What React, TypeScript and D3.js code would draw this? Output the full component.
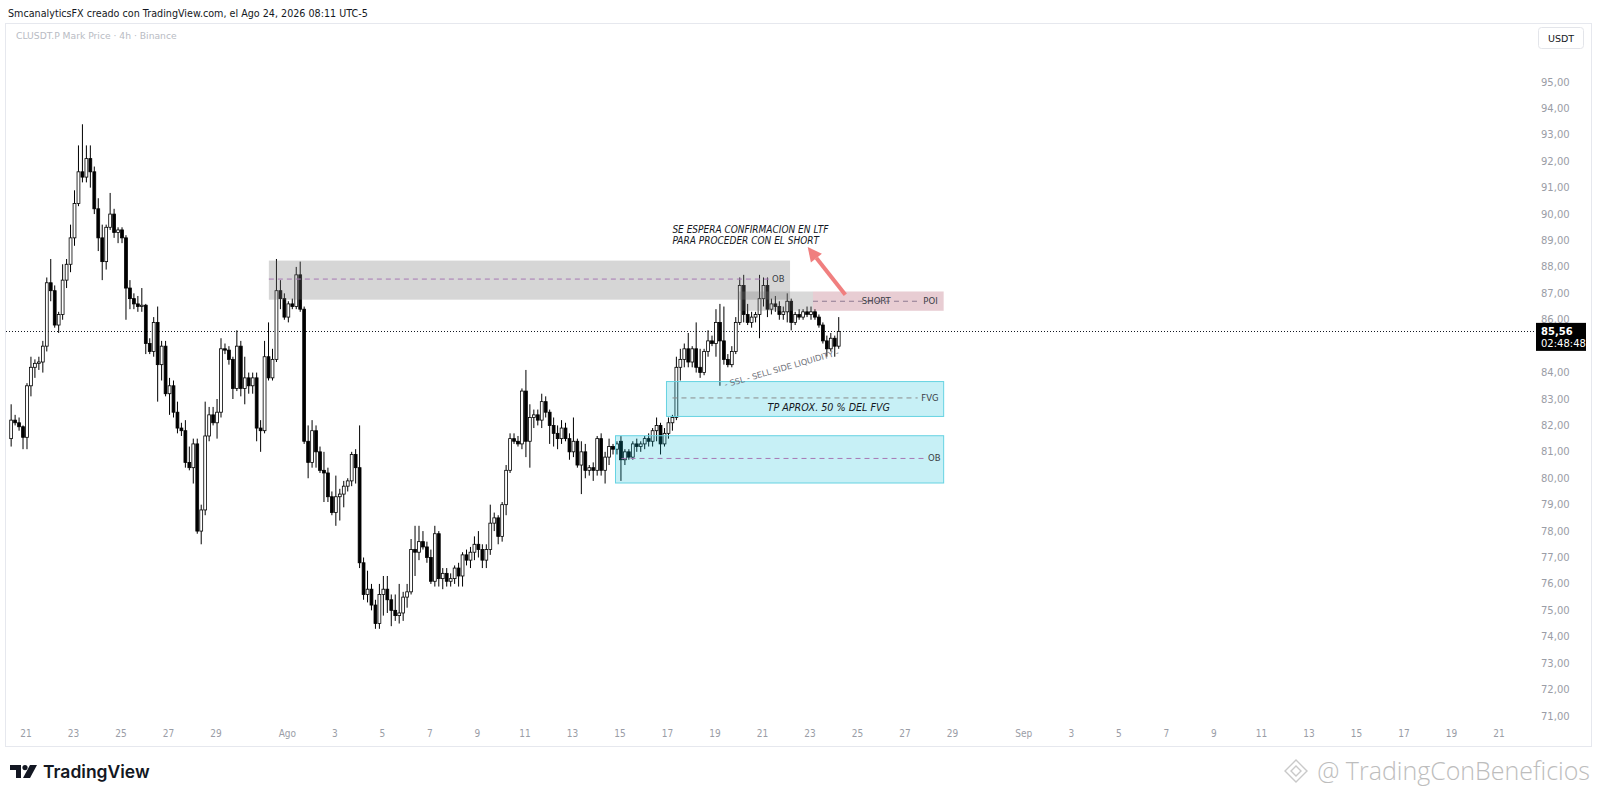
import { useEffect, useRef } from "react";
import * as d3 from "d3";

type Candle = [number, number, number, number]; // open, high, low, close

// 4h candles, the first one opens Jul 20 07:00 (chart time)
const FIRST_OPEN = Date.UTC(2026, 6, 20, 7);
const STEP = 4 * 3600 * 1000;

// Jul 20 -> Aug 1
const julCandles: Candle[] = [
  [81.5, 82.8, 81.2, 82.2], [82.2, 82.4, 82.0, 82.1], [82.1, 82.3, 81.8, 81.95], [81.95, 82.0, 81.1, 81.55],
  [81.55, 83.6, 81.1, 83.5], [83.5, 84.6, 83.1, 84.2], [84.2, 84.5, 83.8, 84.35], [84.35, 84.6, 84.1, 84.4],
  [84.4, 85.2, 84.0, 85.0], [85.0, 87.6, 84.8, 87.4], [87.4, 88.3, 86.7, 87.1], [87.1, 87.3, 85.7, 85.8],
  [85.8, 86.3, 85.5, 86.2], [86.2, 88.1, 86.0, 87.5], [87.5, 88.3, 87.2, 88.1], [88.1, 89.6, 87.8, 89.1],
  [89.1, 90.9, 88.8, 90.4], [90.4, 92.6, 90.3, 91.6], [91.6, 93.4, 91.2, 91.4], [91.4, 92.6, 91.2, 92.1],
  [92.1, 92.6, 91.0, 91.6], [91.6, 91.8, 90.0, 90.2], [90.2, 90.6, 88.6, 89.1], [89.1, 89.6, 87.5, 88.2],
  [88.2, 89.6, 87.9, 89.5], [89.5, 90.8, 89.4, 90.0], [90.0, 90.2, 89.1, 89.3], [89.3, 89.5, 88.9, 89.4],
  [89.4, 89.5, 88.9, 89.1], [89.1, 89.2, 86.0, 87.2], [87.2, 87.5, 86.4, 86.8], [86.8, 87.0, 86.4, 86.6],
  [86.6, 86.9, 86.3, 86.5], [86.5, 87.2, 86.3, 86.55], [86.55, 86.6, 84.7, 85.1], [85.1, 85.3, 84.7, 84.8],
  [84.8, 86.1, 84.6, 85.9], [85.9, 86.5, 82.9, 84.3], [84.3, 85.2, 83.7, 85.0], [85.0, 85.2, 83.1, 83.2],
  [83.2, 83.8, 82.4, 83.5], [83.5, 83.7, 82.3, 82.5], [82.5, 82.9, 81.7, 81.9], [81.9, 82.1, 81.6, 81.8],
  [81.8, 82.2, 80.4, 80.6], [80.6, 81.2, 80.3, 80.4], [80.4, 81.5, 79.8, 81.3], [81.3, 81.5, 77.9, 78.0],
  [78.0, 79.0, 77.5, 78.8], [78.8, 82.9, 78.6, 81.6], [81.6, 82.7, 81.4, 82.4], [82.4, 82.7, 82.0, 82.1],
  [82.1, 83.0, 81.5, 82.5], [82.5, 85.3, 82.3, 84.9], [84.9, 85.1, 84.7, 84.85], [84.85, 85.0, 84.3, 84.5],
  [84.5, 84.6, 83.0, 83.4], [83.4, 85.6, 83.3, 85.0], [85.0, 85.2, 83.1, 83.4], [83.4, 84.6, 82.8, 83.8],
  [83.8, 84.0, 83.2, 83.5], [83.5, 84.0, 83.2, 83.8], [83.8, 84.0, 81.4, 81.9], [81.9, 82.2, 81.0, 81.8],
  [81.8, 85.2, 81.7, 84.6], [84.6, 85.9, 83.7, 83.8], [83.8, 84.9, 83.7, 84.5], [84.5, 88.3, 84.4, 87.1],
  [87.1, 87.5, 86.4, 86.8], [86.8, 87.0, 86.0, 86.1], [86.1, 86.7, 85.9, 86.6], [86.6, 86.8, 86.4, 86.5],
  [86.5, 88.0, 86.4, 87.7], [87.7, 88.2, 86.3, 86.4], [86.4, 86.5, 81.3, 81.4],
];

// Aug 1 -> Aug 10
const earlyAugCandles: Candle[] = [
  [81.4, 82.0, 80.0, 80.6], [80.6, 82.2, 80.4, 81.8], [81.8, 82.0, 80.4, 81.0], [81.0, 81.2, 80.2, 80.3],
  [80.3, 81.0, 79.1, 80.2], [80.2, 80.4, 79.1, 79.3], [79.3, 79.5, 78.6, 78.7], [78.7, 80.1, 78.2, 79.3],
  [79.3, 79.6, 78.4, 79.4], [79.4, 79.9, 78.9, 79.7], [79.7, 80.0, 79.5, 79.9], [79.9, 81.0, 79.7, 80.9],
  [80.9, 81.1, 79.8, 80.4], [80.4, 82.0, 76.6, 76.8], [76.8, 77.0, 75.4, 75.6], [75.6, 76.5, 75.3, 75.8],
  [75.8, 76.0, 75.0, 75.2], [75.2, 75.4, 74.3, 74.5], [74.5, 76.0, 74.3, 75.6], [75.6, 76.3, 74.8, 75.8],
  [75.8, 76.3, 74.9, 75.4], [75.4, 75.6, 74.4, 75.0], [75.0, 75.6, 74.6, 74.8], [74.8, 76.0, 74.5, 74.9],
  [74.9, 75.7, 74.6, 75.5], [75.5, 76.0, 75.1, 75.7], [75.7, 77.7, 75.6, 77.3], [77.3, 78.2, 76.3, 77.2],
  [77.2, 78.2, 76.9, 77.6], [77.6, 78.0, 77.3, 77.4], [77.4, 77.6, 76.8, 77.0], [77.0, 77.3, 76.0, 76.1],
  [76.1, 78.2, 75.9, 77.9], [77.9, 78.0, 75.9, 76.2], [76.2, 76.6, 75.8, 76.4], [76.4, 76.6, 75.9, 76.1],
  [76.1, 76.4, 75.9, 76.2], [76.2, 76.7, 76.0, 76.6], [76.6, 76.8, 75.9, 76.3], [76.3, 77.2, 75.9, 77.1],
  [77.1, 77.3, 76.7, 76.9], [76.9, 77.4, 76.6, 77.2], [77.2, 77.8, 76.9, 77.5], [77.5, 78.0, 77.0, 77.3],
  [77.3, 77.5, 76.6, 76.9], [76.9, 77.5, 76.6, 77.3], [77.3, 79.0, 77.1, 78.3], [78.3, 78.7, 78.0, 78.5],
  [78.5, 78.6, 77.5, 77.8], [77.8, 79.1, 77.6, 79.0], [79.0, 80.5, 78.6, 80.3], [80.3, 81.7, 80.2, 81.5],
  [81.5, 81.7, 81.3, 81.4], [81.4, 81.6, 81.2, 81.3], [81.3, 83.4, 81.1, 83.3], [83.3, 84.1, 80.8, 81.4],
];

// Aug 11 -> Aug 17
const midAugCandles: Candle[] = [
  [81.4, 82.8, 80.4, 82.3], [82.3, 82.6, 81.9, 82.4], [82.4, 82.6, 82.0, 82.2], [82.2, 83.2, 81.9, 82.9],
  [82.9, 83.1, 82.3, 82.5], [82.5, 82.6, 81.3, 82.0], [82.0, 82.3, 81.2, 81.7], [81.7, 82.0, 81.1, 81.5],
  [81.5, 82.2, 81.3, 81.9], [81.9, 82.1, 81.4, 81.5], [81.5, 81.7, 80.7, 81.0], [81.0, 82.3, 80.8, 81.4],
  [81.4, 81.5, 80.4, 80.5], [80.5, 81.4, 79.4, 81.0], [81.0, 81.3, 80.0, 80.3], [80.3, 80.5, 80.1, 80.4],
  [80.4, 80.6, 79.9, 80.3], [80.3, 81.6, 80.1, 81.5], [81.5, 81.7, 80.1, 80.3], [80.3, 81.0, 79.8, 80.8],
  [80.8, 81.5, 80.5, 81.2], [81.2, 81.3, 80.9, 81.1], [81.1, 81.4, 80.9, 81.3], [81.4, 81.6, 79.9, 80.7],
  [80.7, 81.1, 80.5, 81.0], [81.0, 81.1, 80.7, 80.8], [80.8, 81.4, 80.7, 81.3], [81.3, 81.5, 81.0, 81.2],
  [81.2, 81.4, 81.0, 81.3], [81.3, 81.6, 81.1, 81.5], [81.5, 81.7, 81.2, 81.4], [81.4, 81.9, 81.2, 81.8],
  [81.8, 82.3, 81.4, 82.0], [82.0, 82.1, 80.9, 81.3], [81.3, 81.9, 81.2, 81.7], [81.7, 82.3, 81.5, 82.1],
  [82.1, 82.4, 81.8, 82.3], [82.3, 84.6, 82.2, 84.2],
];

// Aug 17 -> Aug 24
const lateAugCandles: Candle[] = [
  [84.2, 84.9, 83.7, 84.5], [84.5, 85.1, 84.2, 84.9], [84.9, 85.5, 84.2, 84.4], [84.4, 85.0, 84.2, 84.9],
  [84.9, 85.9, 84.0, 84.2], [84.2, 84.9, 83.8, 84.0], [84.0, 84.9, 83.9, 84.8], [84.8, 85.6, 84.6, 85.2],
  [85.2, 85.4, 85.0, 85.1], [85.1, 86.4, 84.6, 85.9], [85.9, 86.6, 83.5, 85.2], [85.2, 86.5, 84.3, 84.5],
  [84.5, 84.7, 84.2, 84.3], [84.3, 85.0, 84.2, 84.8], [84.8, 86.1, 84.7, 85.9], [85.9, 87.6, 85.8, 87.3],
  [87.3, 87.7, 85.9, 86.2], [86.2, 86.6, 85.8, 85.9], [85.9, 86.3, 85.7, 86.1], [86.1, 86.3, 85.9, 86.2],
  [86.2, 87.7, 85.3, 86.8], [86.8, 87.6, 86.5, 87.3], [87.3, 87.6, 86.1, 86.4], [86.4, 86.8, 86.2, 86.6],
  [86.6, 86.9, 86.3, 86.5], [86.5, 86.7, 86.0, 86.2], [86.2, 86.5, 86.0, 86.3], [86.3, 87.0, 85.9, 86.7],
  [86.7, 86.8, 85.6, 85.9], [85.9, 86.3, 85.8, 86.2], [86.2, 86.4, 86.0, 86.1], [86.1, 86.4, 86.0, 86.3],
  [86.3, 86.5, 86.1, 86.2], [86.2, 86.5, 86.0, 86.3], [86.3, 86.4, 86.0, 86.1], [86.1, 86.2, 85.7, 85.8],
  [85.8, 85.9, 85.1, 85.2], [85.2, 85.4, 84.6, 84.9], [84.9, 85.5, 84.8, 85.3], [85.3, 85.4, 84.6, 85.0],
  [85.0, 86.1, 84.9, 85.56],
];

const priceTicks = d3.range(71, 96);
const dateTicks = [
  "2026-07-21", "2026-07-23", "2026-07-25", "2026-07-27", "2026-07-29",
  "2026-08-01", "2026-08-03", "2026-08-05", "2026-08-07", "2026-08-09", "2026-08-11", "2026-08-13",
  "2026-08-15", "2026-08-17", "2026-08-19", "2026-08-21", "2026-08-23", "2026-08-25", "2026-08-27", "2026-08-29",
  "2026-09-01", "2026-09-03", "2026-09-05", "2026-09-07", "2026-09-09", "2026-09-11", "2026-09-13",
  "2026-09-15", "2026-09-17", "2026-09-19", "2026-09-21",
];
const monthNames: Record<number, string> = { 7: "Ago", 8: "Sep" };

const lastPrice = 85.56;
const countdown = "02:48:48";

// drawn zones
const obUpper = { start: "2026-07-31T05:20", end: "2026-08-22T03:50", low: 86.76, high: 88.24, mid: 87.54 };
const poiGrey = { start: "2026-08-20T00:30", end: "2026-08-23T03:00", low: 86.34, high: 87.07 };
const poi = { start: "2026-08-23T03:00", end: "2026-08-28T15:00", low: 86.34, high: 87.07, short: 86.7 };
const fvg = { start: "2026-08-16T23:00", end: "2026-08-28T15:00", low: 82.34, high: 83.66, mid: 83.04 };
const obLower = { start: "2026-08-14T19:30", end: "2026-08-28T15:00", low: 79.82, high: 81.61, mid: 80.75 };

const W = 1600;
const H = 799;
const AXIS_TEXT = "#9a9da6";
const OB_LINE = "#a678b4";
const CYAN_FILL = "rgba(0, 188, 212, 0.22)";
const CYAN_EDGE = "#66d3e2";

const t = (s: string) => new Date(s + "Z");

export default function App() {
  const ref = useRef<SVGSVGElement>(null);

  useEffect(() => {
    if (!ref.current) return;
    const svg = d3.select(ref.current);
    svg.selectAll("*").remove();

    const candles = [...julCandles, ...earlyAugCandles, ...midAugCandles, ...lateAugCandles];

    const x = d3.scaleUtc().domain([t("2026-07-21T00:00"), t("2026-08-21T00:00")]).range([26, 762.5]);
    const y = d3.scaleLinear().domain([71, 95]).range([716, 82]);

    svg.append("rect").attr("width", W).attr("height", H).attr("fill", "#fff");

    // Header
    svg
      .append("text")
      .attr("x", 8)
      .attr("y", 17)
      .attr("font-family", "DejaVu Sans")
      .attr("font-size", 9.6)
      .attr("fill", "#131722")
      .text("SmcanalyticsFX creado con TradingView.com, el Ago 24, 2026 08:11 UTC-5");

    svg
      .append("rect")
      .attr("x", 5.5)
      .attr("y", 23.5)
      .attr("width", 1586)
      .attr("height", 723)
      .attr("fill", "none")
      .attr("stroke", "#e6e8ee");

    svg
      .append("text")
      .attr("x", 16)
      .attr("y", 39)
      .attr("font-family", "DejaVu Sans")
      .attr("font-size", 9.2)
      .attr("fill", "#b8bbc3")
      .text("CLUSDT.P Mark Price · 4h · Binance");

    svg
      .append("defs")
      .append("clipPath")
      .attr("id", "plot-clip")
      .append("rect")
      .attr("x", 6)
      .attr("y", 24)
      .attr("width", 1530)
      .attr("height", 722);

    const plot = svg.append("g").attr("clip-path", "url(#plot-clip)");

    // Current price dotted line
    const ly = y(lastPrice);
    plot
      .append("line")
      .attr("x1", 6)
      .attr("x2", 1536)
      .attr("y1", Math.round(ly) + 0.5)
      .attr("y2", Math.round(ly) + 0.5)
      .attr("stroke", "#131722")
      .attr("stroke-width", 1)
      .attr("stroke-dasharray", "1,2");

    // Candles
    const step = x(new Date(FIRST_OPEN + STEP)) - x(new Date(FIRST_OPEN));
    const bw = step * 0.72;
    const cg = plot.append("g");
    candles.forEach((c, i) => {
      const [o, h, l, cl] = c;
      const cx = x(new Date(FIRST_OPEN + i * STEP + STEP / 2));
      const up = cl >= o;
      cg.append("line")
        .attr("x1", cx)
        .attr("x2", cx)
        .attr("y1", y(h))
        .attr("y2", y(l))
        .attr("stroke", "#000")
        .attr("stroke-width", 1);
      const top = y(Math.max(o, cl));
      const bh = Math.max(1, y(Math.min(o, cl)) - top);
      cg.append("rect")
        .attr("x", cx - bw / 2)
        .attr("y", top)
        .attr("width", bw)
        .attr("height", bh)
        .attr("fill", up ? "#fff" : "#000")
        .attr("stroke", "#000")
        .attr("stroke-width", 0.8);
    });

    const zone = (z: { start: string; end: string; low: number; high: number }, fill: string, stroke?: string) =>
      plot
        .append("rect")
        .attr("x", x(t(z.start)))
        .attr("y", y(z.high))
        .attr("width", x(t(z.end)) - x(t(z.start)))
        .attr("height", y(z.low) - y(z.high))
        .attr("fill", fill)
        .attr("stroke", stroke ?? "none")
        .attr("stroke-width", 1);

    const dashed = (x1: number, x2: number, price: number, color: string) =>
      plot
        .append("line")
        .attr("x1", x1)
        .attr("x2", x2)
        .attr("y1", y(price))
        .attr("y2", y(price))
        .attr("stroke", color)
        .attr("stroke-width", 1)
        .attr("stroke-dasharray", "5,4");

    const label = (xx: number, price: number, txt: string, anchor = "start", fill = "#3a3d45") =>
      plot
        .append("text")
        .attr("x", xx)
        .attr("y", y(price) + 3)
        .attr("text-anchor", anchor)
        .attr("font-family", "DejaVu Sans")
        .attr("font-size", 8.5)
        .attr("fill", fill)
        .text(txt);

    const boxRight = x(t(poi.end));

    // Upper OB
    zone(obUpper, "rgba(120, 120, 120, 0.30)");
    dashed(x(t(obUpper.start)), x(t(obUpper.end)) - 21, obUpper.mid, OB_LINE);
    label(x(t(obUpper.end)) - 18, obUpper.mid, "OB");

    // POI
    zone(poiGrey, "rgba(120, 120, 120, 0.28)");
    zone(poi, "rgba(180, 90, 110, 0.30)");
    dashed(x(t(poi.start)), boxRight - 24, poi.short, "#8f7b92");
    label(x(t("2026-08-25T19:00")), poi.short, "SHORT", "middle");
    label(boxRight - 6, poi.short, "POI", "end");

    // FVG
    zone(fvg, CYAN_FILL, CYAN_EDGE);
    dashed(x(t(fvg.start)) + 6, boxRight - 26, fvg.mid, "#8b8b8b");
    label(boxRight - 5, fvg.mid, "FVG", "end");
    plot
      .append("text")
      .attr("x", x(t("2026-08-23T19:00")))
      .attr("y", y(82.55))
      .attr("text-anchor", "middle")
      .attr("font-family", "DejaVu Sans")
      .attr("font-style", "italic")
      .attr("font-size", 9.6)
      .attr("fill", "#131722")
      .text("TP APROX. 50 % DEL FVG");

    // Lower OB
    zone(obLower, CYAN_FILL, CYAN_EDGE);
    dashed(x(t(obLower.start)) + 6, boxRight - 20, obLower.mid, OB_LINE);
    label(boxRight - 3, obLower.mid, "OB", "end");

    // SSL text
    const sx = x(t("2026-08-21T20:00"));
    const sy = y(84.05);
    plot
      .append("text")
      .attr("transform", `translate(${sx},${sy}) rotate(-16)`)
      .attr("text-anchor", "middle")
      .attr("font-family", "DejaVu Sans")
      .attr("font-size", 8.2)
      .attr("fill", "#6f727a")
      .text("- SSL - SELL SIDE LIQUIDITY -");

    // Note
    const nx = x(t("2026-08-17T05:00"));
    const note = plot
      .append("text")
      .attr("font-family", "DejaVu Sans Condensed")
      .attr("font-style", "italic")
      .attr("font-size", 10)
      .attr("fill", "#131722");
    note.append("tspan").attr("x", nx).attr("y", y(89.28)).text("SE ESPERA CONFIRMACION EN LTF");
    note.append("tspan").attr("x", nx).attr("y", y(88.86)).text("PARA PROCEDER CON EL SHORT");

    // Arrow
    const ax1 = x(t("2026-08-24T11:40"));
    const ay1 = y(86.95);
    const ax2 = x(t("2026-08-22T21:40"));
    const ay2 = y(88.75);
    const ang = Math.atan2(ay2 - ay1, ax2 - ax1);
    const headLen = 14;
    const bx = ax2 - headLen * Math.cos(ang);
    const by = ay2 - headLen * Math.sin(ang);
    plot
      .append("line")
      .attr("x1", ax1)
      .attr("y1", ay1)
      .attr("x2", bx)
      .attr("y2", by)
      .attr("stroke", "#f07f7f")
      .attr("stroke-width", 4);
    const px = -Math.sin(ang) * 7;
    const py = Math.cos(ang) * 7;
    plot
      .append("polygon")
      .attr("points", `${ax2},${ay2} ${bx + px},${by + py} ${bx - px},${by - py}`)
      .attr("fill", "#f07f7f");

    // Price axis (the last-price label hides the ticks behind it)
    svg
      .append("g")
      .selectAll("text")
      .data(priceTicks.filter((d) => y(d) < ly - 9 || y(d) > ly + 20))
      .join("text")
      .attr("x", 1541)
      .attr("y", (d) => y(d) + 3.5)
      .attr("font-family", "DejaVu Sans")
      .attr("font-size", 10)
      .attr("fill", AXIS_TEXT)
      .text((d) => d.toFixed(2).replace(".", ","));

    // USDT box
    svg
      .append("rect")
      .attr("x", 1538.5)
      .attr("y", 27.5)
      .attr("width", 45)
      .attr("height", 21)
      .attr("rx", 3)
      .attr("fill", "#fff")
      .attr("stroke", "#e3e5ea");
    svg
      .append("text")
      .attr("x", 1561)
      .attr("y", 41.5)
      .attr("text-anchor", "middle")
      .attr("font-family", "DejaVu Sans")
      .attr("font-size", 9.5)
      .attr("fill", "#131722")
      .text("USDT");

    // Last price label
    svg
      .append("rect")
      .attr("x", 1536)
      .attr("y", ly - 8.5)
      .attr("width", 50)
      .attr("height", 28)
      .attr("fill", "#000");
    svg
      .append("text")
      .attr("x", 1541)
      .attr("y", ly + 4)
      .attr("font-family", "DejaVu Sans")
      .attr("font-weight", "bold")
      .attr("font-size", 10)
      .attr("fill", "#fff")
      .text(lastPrice.toFixed(2).replace(".", ","));
    svg
      .append("text")
      .attr("x", 1541)
      .attr("y", ly + 16)
      .attr("font-family", "DejaVu Sans")
      .attr("font-size", 10)
      .attr("fill", "#fff")
      .text(countdown);

    // Time axis
    svg
      .append("g")
      .selectAll("text")
      .data(dateTicks)
      .join("text")
      .attr("x", (d) => x(t(d + "T00:00")))
      .attr("y", 737)
      .attr("text-anchor", "middle")
      .attr("font-family", "DejaVu Sans Condensed")
      .attr("font-size", 10)
      .attr("fill", AXIS_TEXT)
      .text((d) => {
        const dt = t(d + "T00:00");
        return dt.getUTCDate() === 1 ? monthNames[dt.getUTCMonth()] : String(dt.getUTCDate());
      });

    // TradingView logo
    const logo = svg.append("g").attr("transform", "translate(10,765)").attr("fill", "#131722");
    logo.append("path").attr("d", "M0,0 H11 V13 H6 V5 H0 Z");
    logo.append("circle").attr("cx", 15).attr("cy", 2.6).attr("r", 2.6);
    logo.append("path").attr("d", "M20,0 H27 L20,13 H13 Z");
    svg
      .append("text")
      .attr("x", 43)
      .attr("y", 778)
      .attr("font-family", "Inter")
      .attr("font-weight", 600)
      .attr("font-size", 17.5)
      .attr("fill", "#131722")
      .text("TradingView");

    // Watermark
    const wm = svg
      .append("g")
      .attr("transform", "translate(1296,771)")
      .attr("fill", "none")
      .attr("stroke", "#c9c9c9")
      .attr("stroke-width", 1.4);
    wm.append("path").attr("d", "M0,-11 L11,0 L0,11 L-11,0 Z");
    wm.append("path").attr("d", "M0,-5 L5,0 L0,5 L-5,0 Z");
    svg
      .append("text")
      .attr("x", 1590)
      .attr("y", 780)
      .attr("text-anchor", "end")
      .attr("font-family", "Open Sans")
      .attr("font-weight", 300)
      .attr("font-size", 25)
      .attr("fill", "#bdbdbd")
      .text("@ TradingConBeneficios");
  }, []);

  return (
    <svg
      ref={ref}
      width={W}
      height={H}
      style={{ position: "absolute", left: 0, top: 0, background: "#fff" }}
    />
  );
}
